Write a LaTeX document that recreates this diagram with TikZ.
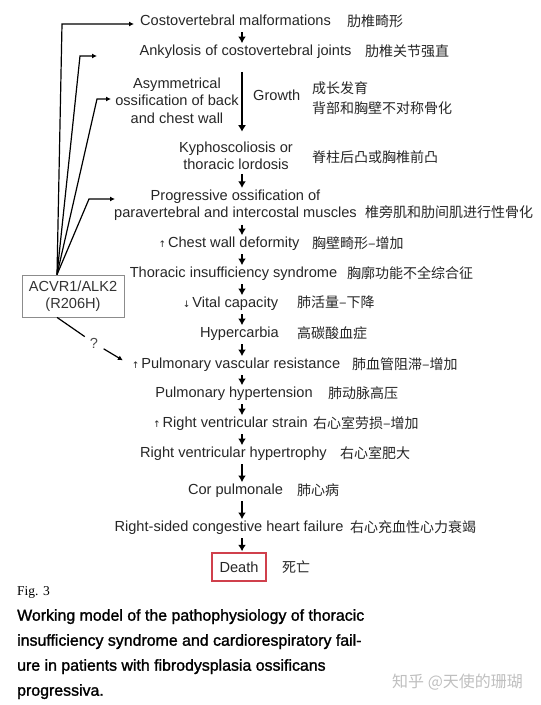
\documentclass[tikz,border=0pt]{standalone}
\usepackage{fontspec}
\setmainfont{Liberation Sans}
\newfontfamily\zhfont{Noto Sans CJK SC}
\newfontfamily\symfont{DejaVu Sans}
\newfontfamily\figfont{Liberation Serif}
\newfontfamily\capfont[BoldFont={Liberation Sans},BoldFeatures={FakeBold=1.4}]{Liberation Sans}
\usetikzlibrary{arrows.meta}
\definecolor{deathred}{RGB}{208,64,76}
\newcommand{\mainsize}{\fontsize{14.6}{17.4}\selectfont}
\newcommand{\incr}{{\symfont\fontsize{9}{9}\selectfont ↑}\hspace{2pt}}
\newcommand{\decr}{{\symfont\fontsize{9}{9}\selectfont ↓}\hspace{2pt}}

\begin{document}
\begin{tikzpicture}[x=1pt, y=-1pt]
\tikzstyle{block} = [inner sep=1pt, align=center, font=\mainsize, text=black!85]
\tikzstyle{stage} = [block, text height=10.5pt, text depth=3pt]
\tikzstyle{zh} = [anchor=west, inner sep=0pt, align=left, font=\zhfont\fontsize{14}{20}\selectfont, text=black!85]
\tikzstyle{flow} = [line width=1.8pt, -{Latex[length=6.5pt,width=8pt]}, shorten <=2.5pt, shorten >=1pt]
\tikzstyle{link} = [line width=1.2pt, -{Latex[length=5pt,width=5pt]}]
\tikzstyle{gene} = [rectangle, draw=black!45, line width=0.8pt, minimum width=102pt, minimum height=42pt, align=center, font=\mainsize, text=black!80, inner sep=1pt]
\tikzstyle{fatal} = [rectangle, draw=deathred, line width=1.5pt, minimum width=54pt, minimum height=28pt, font=\mainsize, text=black!85, inner sep=1pt]

\useasboundingbox (0,0) rectangle (541,705);

% Stages
\node (costo) [stage] at (235.5,22) {Costovertebral malformations};
\node (ankyl) [stage] at (245.5,52) {Ankylosis of costovertebral joints};
\node (asym) [block] at (177,100.5) {Asymmetrical\\ossification of back\\and chest wall};
\node (growth) [stage, anchor=west] at (252,97) {Growth};
\node (kypho) [block] at (236,156) {Kyphoscoliosis or\\thoracic lordosis};
\node (prog) [block] at (235.5,205.5) {Progressive ossification of\\paravertebral and intercostal muscles};
\node (chest) [stage] at (229,244) {\incr Chest wall deformity};
\node (tis) [stage] at (233.5,274) {Thoracic insufficiency syndrome};
\node (vital) [stage] at (230.5,304) {\decr Vital capacity};
\node (hyper) [stage] at (239.5,334) {Hypercarbia};
\node (pvr) [stage] at (236,365) {\incr Pulmonary vascular resistance};
\node (pah) [stage] at (234,394) {Pulmonary hypertension};
\node (rvs) [stage] at (230.5,424) {\incr Right ventricular strain};
\node (rvh) [stage] at (233.5,454) {Right ventricular hypertrophy};
\node (cor) [stage] at (235.5,491) {Cor pulmonale};
\node (rhf) [stage] at (229,528) {Right-sided congestive heart failure};
\node (death) [fatal] at (239,567) {Death};

% Chinese labels
\node (zhcosto) [zh] at (347,21) {肋椎畸形};
\node (zhankyl) [zh] at (365,51) {肋椎关节强直};
\node (zhgrowth) [zh] at (312,98) {成长发育\\背部和胸壁不对称骨化};
\node (zhkypho) [zh] at (312,157) {脊柱后凸或胸椎前凸};
\node (zhprog) [zh] at (365,212) {椎旁肌和肋间肌进行性骨化};
\node (zhchest) [zh] at (312,243) {胸壁畸形–增加};
\node (zhtis) [zh] at (347,273) {胸廓功能不全综合征};
\node (zhvital) [zh] at (297,302) {肺活量–下降};
\node (zhhyper) [zh] at (297,333) {高碳酸血症};
\node (zhpvr) [zh] at (352,364) {肺血管阻滞–增加};
\node (zhpah) [zh] at (328,393) {肺动脉高压};
\node (zhrvs) [zh] at (313,423) {右心室劳损–增加};
\node (zhrvh) [zh] at (340,453) {右心室肥大};
\node (zhcor) [zh] at (297,490) {肺心病};
\node (zhrhf) [zh] at (350,527) {右心充血性心力衰竭};
\node (zhdeath) [zh] at (282,567) {死亡};

% Gene
\node (acvr) [gene] at (73,296) {ACVR1/ALK2\\(R206H)};
\node (qm) [circle, minimum size=22pt, inner sep=0pt, font=\mainsize, text=black!70] at (94,343) {?};

% Branches
\coordinate (axis) at (242,0);
\coordinate (root) at ([xshift=-16pt]acvr.north);
\coordinate (bend1) at (62,24);
\coordinate (bend2) at (80,56);
\coordinate (bend3) at (97,99);
\coordinate (bend4) at (89,199);
\coordinate (tip1) at (134,24);
\coordinate (tip2) at (97,56);
\coordinate (tip3) at (111,99);
\coordinate (tip4) at (115,199);

% Caption
\node (figno) [anchor=west, inner sep=0pt, font=\figfont\fontsize{13.5}{16}\selectfont] at (17,592) {Fig. 3};
\node (caption) [anchor=north west, inner sep=0pt, align=left, font=\capfont\bfseries\fontsize{15.9}{25}\selectfont] at (17,609) {Working model of the pathophysiology of thoracic\\insufficiency syndrome and cardiorespiratory fail-\\ure in patients with fibrodysplasia ossificans\\progressiva.};
\node (mark) [anchor=west, inner sep=0pt, font=\zhfont\fontsize{16}{16}\selectfont, text=black!25] at (392,682) {知乎 @天使的珊瑚};

% Draws
% Main chain
\draw[flow] (costo.south -| axis) -- (ankyl.north -| axis);
\draw[flow, shorten <=12pt, shorten >=9pt] (ankyl.south -| axis) -- (kypho.north -| axis);
\draw[flow] (kypho.south -| axis) -- (prog.north -| axis);
\draw[flow] (prog.south -| axis) -- (chest.north -| axis);
\draw[flow] (chest.south -| axis) -- (tis.north -| axis);
\draw[flow] (tis.south -| axis) -- (vital.north -| axis);
\draw[flow] (vital.south -| axis) -- (hyper.north -| axis);
\draw[flow] (hyper.south -| axis) -- (pvr.north -| axis);
\draw[flow] (pvr.south -| axis) -- (pah.north -| axis);
\draw[flow] (pah.south -| axis) -- (rvs.north -| axis);
\draw[flow] (rvs.south -| axis) -- (rvh.north -| axis);
\draw[flow] (rvh.south -| axis) -- (cor.north -| axis);
\draw[flow] (cor.south -| axis) -- (rhf.north -| axis);
\draw[flow] (rhf.south -| axis) -- (death.north -| axis);

% From gene to stages
\draw[link] (root) -- (bend1) -- (tip1);
\draw[link] (root) -- (bend2) -- (tip2);
\draw[link] (root) -- (bend3) -- (tip3);
\draw[link] (root) -- (bend4) -- (tip4);
\draw[line width=1.2pt] (acvr.south -| root) -- (qm);
\draw[link, shorten >=9pt] (qm) -- (pvr.west);
\end{tikzpicture}
\end{document}
